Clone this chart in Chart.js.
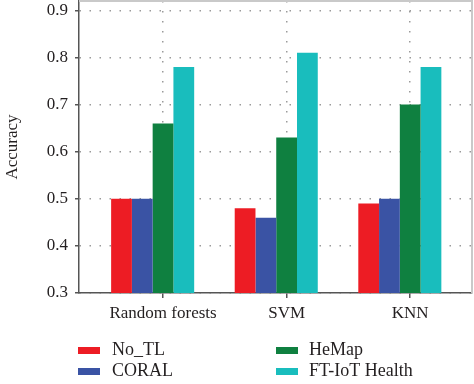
<!DOCTYPE html>
<html>
<head>
<meta charset="utf-8">
<script src="https://cdn.jsdelivr.net/npm/chart.js@4.4.0/dist/chart.umd.min.js"></script>
<style>
  html, body { margin: 0; padding: 0; background: #fff; }
  #wrap { width: 474px; height: 384px; }
</style>
</head>
<body>
<div id="wrap"><canvas id="accChart"></canvas></div>
<script>
// values
const categories = ['Random forests', 'SVM', 'KNN'];
const noTL = [0.50, 0.48, 0.49];
const coral = [0.50, 0.46, 0.50];
const heMap = [0.66, 0.63, 0.70];
const ftIoT = [0.78, 0.81, 0.78];
const yTicks = [0.3, 0.4, 0.5, 0.6, 0.7, 0.8, 0.9];

const serif = '"Liberation Serif", "DejaVu Serif", serif';
const textColor = '#231f20';

function toPoints(arr) {
  return arr.map((v, i) => ({ x: i, y: v }));
}

// light frame on top and right, like the original plot box
const frameLines = {
  id: 'frameLines',
  afterDatasetsDraw(chart) {
    const { ctx, chartArea: a } = chart;
    ctx.save();
    ctx.strokeStyle = '#c9c9c9';
    ctx.lineWidth = 2;
    ctx.beginPath();
    ctx.moveTo(a.left, a.top);
    ctx.lineTo(a.right, a.top);
    ctx.lineTo(a.right, a.bottom);
    ctx.stroke();
    ctx.restore();
  }
};

// two-column legend below the axis
const legendGrid = {
  id: 'legendGrid',
  afterDraw(chart) {
    const ctx = chart.ctx;
    const cols = [{ sw: 78, tx: 112 }, { sw: 276, tx: 309 }];
    const rows = [355, 376];
    ctx.save();
    ctx.font = '18px ' + serif;
    ctx.textBaseline = 'alphabetic';
    chart.data.datasets.forEach((ds, i) => {
      if (!ds.label) return;
      const col = cols[Math.floor(i / 2)];
      const base = rows[i % 2];
      ctx.fillStyle = ds.backgroundColor;
      ctx.fillRect(col.sw, base - 8, 22, 7);
      ctx.fillStyle = textColor;
      ctx.fillText(ds.label, col.tx, base);
    });
    ctx.restore();
  }
};

const ctx = document.getElementById('accChart');
new Chart(ctx, {
  type: 'bar',
  data: {
    datasets: [
      { label: 'No_TL', data: toPoints(noTL), backgroundColor: '#ed1c24' },
      { label: 'CORAL', data: toPoints(coral), backgroundColor: '#3a53a4' },
      { label: 'HeMap', data: toPoints(heMap), backgroundColor: '#0f8040' },
      { label: 'FT-IoT Health', data: toPoints(ftIoT), backgroundColor: '#19bdbd' },
      // empty spacer so the HeMap bar sits on the tick, as in the original
      { label: '', data: [], backgroundColor: 'rgba(0,0,0,0)' }
    ]
  },
  options: {
    responsive: true,
    maintainAspectRatio: false,
    animation: false,
    categoryPercentage: 0.84,
    barPercentage: 1,
    layout: { padding: { top: 1, right: 2, left: 0, bottom: 0 } },
    plugins: {
      legend: { display: false },
      tooltip: { enabled: false }
    },
    scales: {
      x: {
        type: 'linear',
        offset: false,
        min: -0.68,
        max: 2.5,
        afterBuildTicks: (scale) => {
          scale.ticks = categories.map((c, i) => ({ value: i }));
        },
        afterFit: (scale) => {
          scale.height = 91;
          scale.paddingLeft = 0;
          scale.paddingRight = 0;
        },
        ticks: {
          color: textColor,
          font: { family: serif, size: 17 },
          padding: 5,
          maxRotation: 0,
          callback: (v) => categories[v]
        },
        grid: {
          offset: false,
          color: '#9a9a9a',
          lineWidth: 1.5,
          tickLength: 5,
          tickColor: '#555',
          tickWidth: 1.5,
          tickBorderDash: []
        },
        border: { color: '#555', width: 1.5, dash: [1.5, 8.5] }
      },
      y: {
        min: 0.3,
        max: 0.92,
        afterBuildTicks: (scale) => {
          scale.ticks = yTicks.map(v => ({ value: v }));
        },
        afterFit: (scale) => {
          scale.width = 79;
          scale.paddingTop = 0;
          scale.paddingBottom = 0;
        },
        ticks: {
          color: textColor,
          font: { family: serif, size: 17 },
          padding: 7,
          callback: (v) => v.toFixed(1)
        },
        grid: {
          color: '#9a9a9a',
          lineWidth: 1.5,
          tickLength: 4,
          tickColor: '#555',
          tickWidth: 1.5,
          tickBorderDash: []
        },
        border: { color: '#555', width: 1.5, dash: [1.5, 8.5] },
        title: {
          display: true,
          text: 'Accuracy',
          color: textColor,
          font: { family: serif, size: 17 },
          padding: { top: 2, bottom: 0 }
        }
      }
    }
  },
  plugins: [frameLines, legendGrid]
});
</script>
</body>
</html>
